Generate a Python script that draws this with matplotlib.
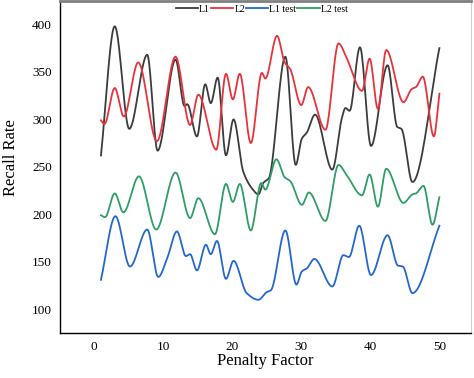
import matplotlib
matplotlib.use("Agg")
import matplotlib.pyplot as plt
import numpy as np

plt.rcParams["font.family"] = ["Liberation Serif", "DejaVu Serif"]

# turning points (x = penalty factor, y = recall rate)
l1_x = [1, 3.0, 5.1, 7.7, 9.2, 11.8, 13.1, 13.5, 14.9, 16.1, 16.9, 17.9, 19.1, 20.2,
        21.6, 22.9, 23.8, 24.5, 25.3, 27.7, 29.2, 30.1, 30.8, 32.0, 34.5, 35.9, 36.4,
        37.0, 38.5, 40.1, 42.5, 43.9, 44.5, 46.1, 50]
l1_y = [262, 398, 290, 368, 267, 363, 314, 316, 282, 337, 317, 344, 262, 300,
        245, 227, 221, 233, 238, 366, 252, 280, 286, 305, 247, 302, 312,
        309, 376, 272, 357, 292, 290, 234, 375]

l2_x = [1, 1.5, 3.0, 4.3, 6.4, 9.1, 11.8, 13.9, 15.1, 17.7, 19.1, 20.1, 21.1, 22.7,
        24.3, 24.8, 26.5, 27.6, 28.4, 30.0, 31.0, 33.5, 35.4, 36.6, 38.8, 39.9, 41.1,
        42.3, 44.8, 46.0, 46.6, 47.6, 49.2, 50]
l2_y = [299, 295, 333, 303, 360, 277, 366, 294, 326, 268, 348, 321, 348, 275,
        349, 343, 388, 360, 353, 315, 334, 289, 380, 364, 330, 364, 311,
        373, 318, 332, 334, 345, 282, 327]

l1t_x = [1, 3.1, 5.2, 7.7, 9.3, 10.6, 12.0, 13.3, 13.9, 14.9, 16.2, 16.9, 17.8, 19.1,
         20.2, 22.1, 23.8, 25.0, 25.6, 27.7, 29.3, 30.1, 30.8, 31.9, 34.5, 36.1, 36.9,
         38.4, 40.1, 42.5, 44.0, 44.7, 46.1, 50]
l1t_y = [131, 198, 145, 184, 134, 154, 182, 156, 158, 141, 168, 158, 172, 132,
         151, 117, 110, 118, 120, 183, 126, 140, 143, 153, 124, 157, 155,
         188, 136, 178, 146, 145, 117, 188]

l2t_x = [1, 1.6, 3.0, 4.25, 6.5, 9.0, 11.8, 13.9, 15.1, 17.5, 19.1, 20.1, 21.1, 22.7,
         24.2, 24.8, 26.4, 27.6, 28.4, 30.1, 31.1, 33.5, 35.4, 36.6, 38.8, 39.9, 41.1,
         42.3, 44.8, 46.1, 46.6, 47.7, 49.0, 50]
l2t_y = [199, 197, 222, 202, 240, 184, 244, 196, 217, 179, 232, 213, 232, 183,
         233, 226, 258, 239, 235, 210, 223, 193, 252, 241, 220, 242, 208,
         248, 212, 221, 222, 230, 189, 218]

series = [("L1", l1_x, l1_y, "#3c3c3c"),
          ("L2", l2_x, l2_y, "#e8333c"),
          ("L1 test", l1t_x, l1t_y, "#2467d2"),
          ("L2 test", l2t_x, l2t_y, "#2f9e66")]


def pchip(x, y, n=600):
    # monotone cubic (Fritsch-Carlson), keeps turning points where they were read
    x = np.asarray(x, float)
    y = np.asarray(y, float)
    h = np.diff(x)
    d = np.diff(y) / h
    m = np.zeros_like(y)
    for k in range(1, len(x) - 1):
        if d[k - 1] * d[k] > 0:
            w1 = 2 * h[k] + h[k - 1]
            w2 = h[k] + 2 * h[k - 1]
            m[k] = (w1 + w2) / (w1 / d[k - 1] + w2 / d[k])
    m[0] = d[0]
    m[-1] = d[-1]
    xs = np.linspace(x[0], x[-1], n)
    idx = np.clip(np.searchsorted(x, xs) - 1, 0, len(x) - 2)
    t = (xs - x[idx]) / h[idx]
    h00 = 2 * t**3 - 3 * t**2 + 1
    h10 = t**3 - 2 * t**2 + t
    h01 = -2 * t**3 + 3 * t**2
    h11 = t**3 - t**2
    ys = h00 * y[idx] + h10 * h[idx] * m[idx] + h01 * y[idx + 1] + h11 * h[idx] * m[idx + 1]
    return xs, ys


fig = plt.figure(figsize=(4.74, 3.78), dpi=100)
ax = fig.add_axes([0.127, 0.119, 0.867, 0.878])

for name, xs, ys, col in series:
    sx, sy = pchip(xs, ys)
    ax.plot(sx, sy, color=col, linewidth=1.3, label=name)

ax.set_xlim(-4.9, 54.6)
ax.set_ylim(75, 424.5)
ax.set_xticks([0, 10, 20, 30, 40, 50])
ax.set_yticks([100, 150, 200, 250, 300, 350, 400])
ax.tick_params(length=0, labelsize=9.5, pad=6)

for s in ["left", "bottom"]:
    ax.spines[s].set_color("black")
    ax.spines[s].set_linewidth(1.0)
ax.spines["top"].set_color("#808080")
ax.spines["top"].set_linewidth(2.0)
ax.spines["right"].set_color("#d0d0d0")
ax.spines["right"].set_linewidth(0.8)

ax.set_xlabel("Penalty Factor", fontsize=12, labelpad=0)
ax.set_ylabel("Recall Rate", fontsize=12)
ax.yaxis.set_label_coords(-0.1, 0.53)

ax.legend(loc="upper center", bbox_to_anchor=(0.49, 1.01), ncol=4, frameon=False,
          fontsize=7, handlelength=2.3, handletextpad=0.1, columnspacing=0.1,
          borderpad=0.2)

fig.savefig("out.png", dpi=100, facecolor="white")
